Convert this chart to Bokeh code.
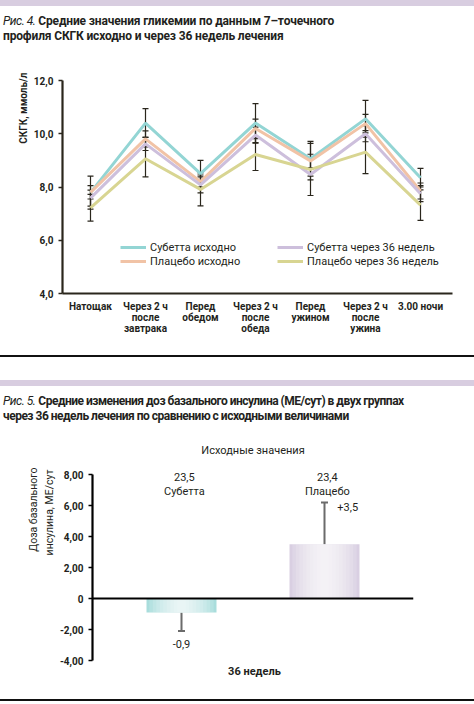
from bokeh.plotting import figure
from bokeh.models import (ColumnDataSource, Whisker, TeeHead, Legend, LegendItem, Label,
                          FixedTicker, Span, Div, Title)
from bokeh.layouts import column
from bokeh.embed import file_html
from bokeh.resources import INLINE

# ---------------- data: figure 4 ----------------
time_points = ["Натощак", "Через 2 ч\nпосле\nзавтрака", "Перед\nобедом", "Через 2 ч\nпосле\nобеда",
               "Перед\nужином", "Через 2 ч\nпосле\nужина", "3.00 ночи"]
subetta_base = [7.79, 10.40, 8.50, 10.40, 9.06, 10.56, 8.35]
placebo_base = [7.80, 9.81, 8.20, 10.20, 8.98, 10.38, 7.85]
subetta_36 = [7.58, 9.62, 8.08, 9.95, 8.47, 10.00, 7.75]
placebo_36 = [7.22, 9.06, 7.91, 9.22, 8.66, 9.31, 7.32]
sd_subetta_base = [0.62, 0.54, 0.50, 0.73, 0.65, 0.69, 0.35]
sd_placebo_base = [0.25, 0.30, 0.25, 0.35, 0.25, 0.35, 0.30]
sd_subetta_36 = [0.30, 0.25, 0.30, 0.30, 0.20, 0.30, 0.30]
sd_placebo_36 = [0.50, 0.68, 0.62, 0.60, 0.98, 0.81, 0.57]
y1_ticks = [4, 6, 8, 10, 12]
y1_labels = ["4,0", "6,0", "8,0", "10,0", "12,0"]
series_names = ["Субетта исходно", "Плацебо исходно", "Субетта через 36 недель", "Плацебо через 36 недель"]

# ---------------- data: figure 5 ----------------
groups = ["Субетта", "Плацебо"]
baseline_dose = ["23,5", "23,4"]
dose_change = [-0.9, 3.5]
change_labels = ["-0,9", "+3,5"]
err_lower = [-2.1, 0.85]
err_upper = [-0.9, 6.2]
y2_ticks = [-4, -2, 0, 2, 4, 6, 8]
y2_labels = ["-4,00", "-2,00", "0", "2,00", "4,00", "6,00", "8,00"]

FONT = "Roboto"
TXT = "#231f20"
AX = "#2a261c"
COLORS = ["#93d5d4", "#f1c3a6", "#cdbfdc", "#d8d592"]
W = 474


def no_align(p):
    try:
        p.frame_align = False
    except Exception:
        pass


def style_axis(ax, color, size="10px", bold=True):
    ax.axis_line_width = 2.2
    ax.axis_line_color = color
    ax.major_tick_line_color = color
    ax.major_tick_line_width = 1.5
    ax.major_tick_out = 4
    ax.major_tick_in = 0
    ax.minor_tick_line_color = None
    ax.major_label_standoff = 5
    ax.major_label_text_font = FONT
    ax.major_label_text_font_style = "bold" if bold else "normal"
    ax.major_label_text_font_size = size
    ax.major_label_text_color = TXT


def lab(p, x, y, text, size="11px", style="normal", align="center"):
    p.add_layout(Label(x=x, y=y, text=text, text_font=FONT, text_font_size=size,
                       text_font_style=style, text_color=TXT, text_align=align,
                       text_baseline="middle"))


# =============== figure 4 ===============
H1 = 305
L1, R1, T1, B1 = 62, 452, 30, 243
STEP1 = 55.0
x1s = -28 / STEP1
x1e = x1s + (R1 - L1) / STEP1
p1 = figure(width=W, height=H1, output_backend="svg", toolbar_location=None,
            x_range=(x1s, x1e), y_range=(4, 12),
            min_border_left=L1, min_border_right=W - R1, min_border_top=T1, min_border_bottom=H1 - B1)
no_align(p1)
p1.title.text = ""
p1.outline_line_color = None
p1.grid.visible = False

xs = list(range(len(time_points)))
all_series = [subetta_base, placebo_base, subetta_36, placebo_36]
all_sd = [sd_subetta_base, sd_placebo_base, sd_subetta_36, sd_placebo_36]
renderers = []
for vals, col in zip(all_series, COLORS):
    src = ColumnDataSource(dict(x=xs, y=vals))
    renderers.append(p1.line("x", "y", source=src, line_color=col, line_width=3))
for vals, sd in zip(all_series, all_sd):
    src = ColumnDataSource(dict(x=xs,
                                lo=[v - s for v, s in zip(vals, sd)],
                                hi=[v + s for v, s in zip(vals, sd)]))
    p1.add_layout(Whisker(base="x", lower="lo", upper="hi", source=src, line_color=AX, line_width=1.2,
                          upper_head=TeeHead(size=6, line_color=AX, line_width=1.2),
                          lower_head=TeeHead(size=6, line_color=AX, line_width=1.2)))

ya1 = p1.yaxis[0]
ya1.ticker = FixedTicker(ticks=y1_ticks)
ya1.major_label_overrides = {t: l for t, l in zip(y1_ticks, y1_labels)}
style_axis(ya1, AX)
xa1 = p1.xaxis[0]
xa1.ticker = FixedTicker(ticks=xs)
xa1.major_label_overrides = {i: t for i, t in enumerate(time_points)}
style_axis(xa1, AX)
xa1.major_tick_line_color = None
xa1.major_tick_out = 0
xa1.major_label_standoff = 7
xa1.major_label_text_line_height = 1.0

p1.add_layout(Title(text="СКГК, ммоль/л", align="right", offset=-8, standoff=3,
                    text_font=FONT, text_font_size="10px", text_font_style="bold",
                    text_color=TXT), "left")

leg_common = dict(background_fill_alpha=0, border_line_alpha=0, padding=0, margin=0, spacing=0,
                  glyph_width=26, glyph_height=14, label_height=14, label_standoff=4,
                  label_text_font=FONT, label_text_font_size="11px", label_text_color=TXT)
leg_a = Legend(items=[LegendItem(label=series_names[0], renderers=[renderers[0]]),
                      LegendItem(label=series_names[1], renderers=[renderers[1]])],
               location=(58, 25), label_width=110, **leg_common)
leg_b = Legend(items=[LegendItem(label=series_names[2], renderers=[renderers[2]]),
                      LegendItem(label=series_names[3], renderers=[renderers[3]])],
               location=(215, 25), label_width=150, **leg_common)
p1.add_layout(leg_a)
p1.add_layout(leg_b)

# =============== figure 5 ===============
H2 = 271
L2, R2, T2, B2 = 92, 413, 30, 232
STEP2 = 143.0
x2s = 1 - 89 / STEP2
x2e = x2s + (R2 - L2) / STEP2
PX2 = 15.5  # px per unit
y2_end = 8 + 16 / PX2
p2 = figure(width=W, height=H2, output_backend="svg", toolbar_location=None,
            x_range=(x2s, x2e), y_range=(-4, y2_end),
            min_border_left=L2, min_border_right=W - R2, min_border_top=T2, min_border_bottom=H2 - B2)
no_align(p2)
p2.title.text = ""
p2.outline_line_color = None
p2.grid.visible = False

gx = [1, 2]
bar_w = 70 / STEP2
bar_cols = ["#a9dddc", "#d9cfe2"]
src2 = ColumnDataSource(dict(x=gx, top=dose_change, color=bar_cols))
p2.vbar(x="x", top="top", bottom=0, width=bar_w, source=src2, fill_color="color", line_color=None)
for f in [0.92, 0.82, 0.72, 0.62, 0.52, 0.42, 0.32, 0.22, 0.12]:
    p2.vbar(x="x", top="top", bottom=0, width=bar_w * f, source=src2,
            fill_color="white", fill_alpha=0.15, line_color=None)

p2.add_layout(Span(location=0, dimension="width", line_color="black", line_width=2))

GR = "#6b6b6b"
w1 = ColumnDataSource(dict(x=[gx[0]], lo=[err_lower[0]], hi=[err_upper[0]]))
p2.add_layout(Whisker(base="x", lower="lo", upper="hi", source=w1, line_color=GR, line_width=2,
                      upper_head=None, lower_head=TeeHead(size=7, line_color=GR, line_width=2)))
w2 = ColumnDataSource(dict(x=[gx[1]], lo=[err_lower[1]], hi=[err_upper[1]]))
p2.add_layout(Whisker(base="x", lower="lo", upper="hi", source=w2, line_color=GR, line_width=2,
                      upper_head=TeeHead(size=7, line_color=GR, line_width=2),
                      lower_head=TeeHead(size=7, line_color=GR, line_width=2)))

ya2 = p2.yaxis[0]
ya2.ticker = FixedTicker(ticks=y2_ticks)
ya2.major_label_overrides = {t: l for t, l in zip(y2_ticks, y2_labels)}
ya2.bounds = (-4, 8)
style_axis(ya2, "black")

xa2 = p2.xaxis[0]
week_x = x2s + (254 - L2) / STEP2
xa2.ticker = FixedTicker(ticks=[week_x])
xa2.major_label_overrides = {week_x: "36 недель"}
xa2.axis_line_color = None
xa2.major_tick_line_color = None
xa2.minor_tick_line_color = None
xa2.major_tick_out = 0
xa2.major_label_standoff = 4
xa2.major_label_text_font = FONT
xa2.major_label_text_font_style = "bold"
xa2.major_label_text_font_size = "11px"
xa2.major_label_text_color = TXT

p2.add_layout(Title(text="Исходные значения", align="center", standoff=4,
                    text_font=FONT, text_font_size="11px", text_font_style="normal",
                    text_color=TXT), "above")
p2.add_layout(Title(text="инсулина, МЕ/сут", align="right", offset=11, standoff=1,
                    text_font=FONT, text_font_size="10.5px", text_font_style="normal",
                    text_color=TXT), "left")
p2.add_layout(Title(text="Доза базального", align="right", offset=9, standoff=1,
                    text_font=FONT, text_font_size="10.5px", text_font_style="normal",
                    text_color=TXT), "left")

def Y2(cy):
    return 8 - (cy - 46) / PX2

for i in range(2):
    lab(p2, gx[i] + 0.02, Y2(48), baseline_dose[i])
    lab(p2, gx[i] + 0.02, Y2(63), groups[i])
lab(p2, gx[0], err_lower[0] - 0.85, change_labels[0])
lab(p2, gx[1] + 0.09, err_upper[1] - 0.3, change_labels[1], align="left")

# =============== page ===============
BAND = "#d8cde0"


def bar_div(h, color):
    return Div(text="", width=W, height=h, margin=0, styles={"background-color": color})


def title_div(h, pad, spacing, italic, bold1, line2):
    html = ('<div style="font-family:Roboto;font-size:12px;line-height:14.5px;color:%s;'
            'padding-top:%dpx;padding-left:3px;white-space:nowrap;letter-spacing:%.2fpx">'
            '<i style="letter-spacing:-0.5px">%s</i><b style="margin-left:3px">%s</b><br>'
            '<b>%s</b></div>' % (TXT, pad, spacing, italic, bold1, line2))
    return Div(text=html, width=W, height=h, margin=0)


t1 = title_div(44, 8, -0.15, "Рис. 4.", "Средние значения гликемии по данным 7–точечного",
               "профиля СКГК исходно и через 36 недель лечения")
t2 = title_div(42, 8, -0.5, "Рис. 5.", "Средние изменения доз базального инсулина (МЕ/сут) в двух группах",
               "через 36 недель лечения по сравнению с исходными величинами")

layout = column(bar_div(6, BAND), t1, p1, bar_div(2, "#111111"), bar_div(23, "white"),
                bar_div(6, BAND), t2, p2, bar_div(2, "#111111"), spacing=0)

open("out.html", "w").write(file_html(layout, INLINE))
